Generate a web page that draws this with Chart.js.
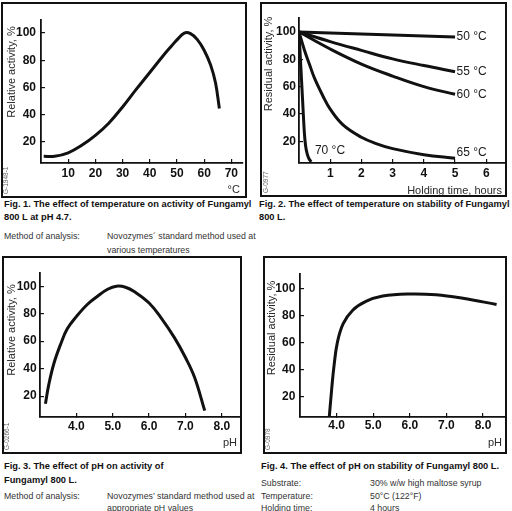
<!DOCTYPE html>
<html>
<head>
<meta charset="utf-8">
<script src="https://cdn.jsdelivr.net/npm/chart.js@4/dist/chart.umd.min.js"></script>
<style>
  body { margin: 0; background: #fff; width: 512px; height: 511px; position: relative; overflow: hidden;
         font-family: "Liberation Sans", Arial, sans-serif; }
  .box { position: absolute; border: 2px solid #111; box-sizing: border-box; }
  canvas { position: absolute; }
  .cap { position: absolute; font-weight: bold; font-size: 9.3px; line-height: 13px; color: #111; white-space: nowrap; }
  .det { position: absolute; font-size: 8.8px; line-height: 12px; color: #333; white-space: nowrap; }
</style>
</head>
<body>

<div class="box" style="left:1px;top:2px;width:246px;height:196px"></div>
<div class="box" style="left:260px;top:2px;width:247px;height:195px"></div>
<div class="box" style="left:2px;top:256px;width:240px;height:198px"></div>
<div class="box" style="left:263px;top:256px;width:244px;height:198px"></div>

<canvas id="g1"></canvas>
<canvas id="g2"></canvas>
<canvas id="g3"></canvas>
<canvas id="g4"></canvas>

<div class="cap" style="left:4px;top:198px">Fig. 1. The effect of temperature on activity of Fungamyl</div>
<div class="cap" style="left:4px;top:211px">800 L at pH 4.7.</div>
<div class="det" style="left:4px;top:230px">Method of analysis:</div>
<div class="det" style="left:107px;top:230px">Novozymes´ standard method used at</div>
<div class="det" style="left:107px;top:244px">various temperatures</div>

<div class="cap" style="left:259px;top:198px">Fig. 2. The effect of temperature on stability of Fungamyl</div>
<div class="cap" style="left:259px;top:211px">800 L.</div>

<div class="cap" style="left:4px;top:460px">Fig. 3. The effect of pH on activity of</div>
<div class="cap" style="left:4px;top:474px">Fungamyl 800 L.</div>
<div class="det" style="left:4px;top:490px">Method of analysis:</div>
<div class="det" style="left:107px;top:490px">Novozymes’ standard method used at</div>
<div class="det" style="left:107px;top:502px">appropriate pH values</div>

<div class="cap" style="left:261px;top:460px">Fig. 4. The effect of pH on stability of Fungamyl 800 L.</div>
<div class="det" style="left:261px;top:477px">Substrate:</div>
<div class="det" style="left:370px;top:477px">30% w/w high maltose syrup</div>
<div class="det" style="left:261px;top:490px">Temperature:</div>
<div class="det" style="left:370px;top:490px">50°C (122°F)</div>
<div class="det" style="left:261px;top:502px">Holding time:</div>
<div class="det" style="left:370px;top:502px">4 hours</div>

<script>
// Fig. 1 - atividade x temperatura (pH 4.7)
const tempC   = [1, 5, 10, 15, 20, 25, 30, 35, 40, 45, 48, 50, 52.7, 55, 57.5, 60, 62.4, 64.2, 65.6];
const tempAtv = [9.2, 9.2, 11.8, 17.3, 24.6, 33.8, 45.6, 58.5, 71, 83.5, 90.5, 95, 100, 99.6, 95.2, 87.4, 76.4, 63.2, 44.5];

// Fig. 2 - estabilidade x tempo de espera
const horas50 = [0, 5];
const resid50 = [100, 96.3];
const horas55 = [0, 1, 2, 3, 4, 5];
const resid55 = [100, 92.9, 86.5, 80.3, 75.4, 70.9];
const horas60 = [0, 1, 2, 3, 4, 5];
const resid60 = [100, 87.5, 76.5, 67.7, 60, 54.4];
const horas65 = [0, 0.17, 0.34, 0.5, 0.77, 1, 1.41, 2, 2.47, 3, 4, 5];
const resid65 = [100, 87, 76, 66, 53, 43.5, 32, 23, 18.4, 14.7, 10.3, 7.7];
const horas70 = [0, 0.06, 0.12, 0.17, 0.21, 0.26, 0.32, 0.39];
const resid70 = [100, 74, 48, 27, 17, 11, 7.3, 5];
const rotulosTemp = ["50 °C", "55 °C", "60 °C", "65 °C", "70 °C"];
const rotulosX    = [5.05, 5.05, 5.05, 5.05, 0.51];
const rotulosY    = [96.7, 71.2, 54.1, 11.8, 12.9];

// Fig. 3 - atividade x pH
const phAtv  = [3.15, 3.24, 3.38, 3.57, 3.75, 4.0, 4.3, 4.58, 4.86, 5.1, 5.35, 5.6, 6.0, 6.33, 6.7, 7.0, 7.25, 7.53];
const atvPh  = [14.5, 28.2, 43.6, 58, 69, 77.9, 86.7, 92.7, 97.8, 100, 99.3, 96, 87.8, 77, 62.4, 48.1, 33.7, 9.4];

// Fig. 4 - estabilidade x pH
const phEst  = [3.8, 3.87, 3.93, 4.02, 4.18, 4.44, 4.8, 5.26, 6.0, 6.72, 7.45, 8.37];
const estPh  = [5, 27, 43, 60, 74, 84, 90.5, 94.5, 96, 95.4, 92.8, 88.3];

// ticks
const ticksTemp  = [10, 20, 30, 40, 50, 60, 70];
const ticksHoras = [1, 2, 3, 4, 5, 6];
const ticksPh    = [4, 5, 6, 7, 8];
const ticksPct   = [20, 40, 60, 80, 100];

const FAMILIA = "'Liberation Sans', Arial, sans-serif";

// rótulos das curvas, título do eixo y e código da figura
const notas = {
  id: "notas",
  afterDraw(chart, args, o) {
    const { ctx } = chart;
    const { x, y } = chart.scales;
    ctx.save();
    ctx.fillStyle = "#2a2a2a";
    ctx.font = "11px " + FAMILIA;
    ctx.textAlign = "center";
    ctx.textBaseline = "middle";
    ctx.translate(o.tituloX, o.tituloY);
    ctx.rotate(-Math.PI / 2);
    ctx.fillText(o.titulo, 0, 0);
    ctx.restore();

    ctx.save();
    ctx.fillStyle = "#666";
    ctx.font = "6.5px " + FAMILIA;
    ctx.textAlign = "left";
    ctx.textBaseline = "middle";
    ctx.translate(o.codigoX, chart.height - 2);
    ctx.rotate(-Math.PI / 2);
    ctx.fillText(o.codigo, 0, 0);
    ctx.restore();

    if (o.rotulos) {
      ctx.save();
      ctx.fillStyle = "#1a1a1a";
      ctx.font = "12px " + FAMILIA;
      ctx.textAlign = "left";
      ctx.textBaseline = "middle";
      o.rotulos.textos.forEach((t, i) => {
        ctx.fillText(t, x.getPixelForValue(o.rotulos.xs[i]), y.getPixelForValue(o.rotulos.ys[i]));
      });
      ctx.restore();
    }
  }
};

function serie(xs, ys) {
  return {
    data: xs.map((v, i) => ({ x: v, y: ys[i] })),
    borderColor: "#111",
    borderWidth: 3,
    pointRadius: 0,
    fill: false,
    tension: 0.4
  };
}

function montarGrafico(p) {
  const canvas = document.getElementById(p.id);
  canvas.width = p.w;
  canvas.height = p.h;
  canvas.style.left = p.left + "px";
  canvas.style.top = p.top + "px";

  const eixo = (ticks, padding, fmt) => ({
    type: "linear",
    afterBuildTicks: s => { s.ticks = ticks.map(v => ({ value: v })); },
    ticks: {
      autoSkip: false, maxRotation: 0, padding, color: "#111",
      font: { family: FAMILIA, size: 12, weight: "bold" },
      callback: fmt
    },
    grid: { drawOnChartArea: false, drawTicks: true, tickLength: -4, color: "#111", lineWidth: 1.2 },
    border: { display: true, color: "#111", width: 1.8 }
  });

  const x = Object.assign(eixo(p.xTicks, p.xPad, p.xFmt), {
    min: p.xMin, max: p.xMax,
    afterFit: s => { s.height = p.xH; },
    title: {
      display: true, text: p.xTitulo, align: "end", color: "#2a2a2a",
      font: { family: FAMILIA, size: 11, lineHeight: 0.8 },
      padding: { top: 0, bottom: p.xTitPad }
    }
  });
  const y = Object.assign(eixo(ticksPct, p.yPad, v => String(v)), {
    min: p.yMin, max: p.yMax,
    afterFit: s => { s.width = p.yW; }
  });

  return new Chart(canvas, {
    type: "line",
    data: { datasets: p.series },
    options: {
      responsive: false,
      animation: false,
      events: [],
      layout: { padding: 0 },
      plugins: {
        legend: { display: false },
        tooltip: { enabled: false },
        notas: p.notas
      },
      scales: { x, y }
    },
    plugins: [notas]
  });
}

const inteiro = v => String(v);
const decimal = v => v.toFixed(1);

montarGrafico({
  id: "g1", left: 3, top: 4, w: 242, h: 192, yW: 38, xH: 33,
  xMin: 0, xMax: 74.3, yMin: 4.3, yMax: 109.5,
  xTicks: ticksTemp, xFmt: inteiro, xPad: 7, yPad: 9,
  xTitulo: "°C ", xTitPad: 1.5,
  series: [serie(tempC, tempAtv)],
  notas: { titulo: "Relative activity, %", tituloX: 9.3, tituloY: 68, codigo: "G-1948-1", codigoX: 3 }
});

montarGrafico({
  id: "g2", left: 262, top: 4, w: 243, h: 191, yW: 37, xH: 32,
  xMin: 0, xMax: 6.6, yMin: 4.2, yMax: 110,
  xTicks: ticksHoras, xFmt: inteiro, xPad: 7, yPad: 7,
  xTitulo: "Holding time, hours ", xTitPad: 0,
  series: [serie(horas50, resid50), serie(horas55, resid55), serie(horas60, resid60),
           serie(horas65, resid65), serie(horas70, resid70)],
  notas: {
    titulo: "Residual activity, %", tituloX: 7.3, tituloY: 60, codigo: "G-0977", codigoX: 4,
    rotulos: { textos: rotulosTemp, xs: rotulosX, ys: rotulosY }
  }
});

montarGrafico({
  id: "g3", left: 4, top: 258, w: 236, h: 194, yW: 36, xH: 35,
  xMin: 3, xMax: 8.5, yMin: 4.8, yMax: 110,
  xTicks: ticksPh, xFmt: decimal, xPad: 6, yPad: 7.3,
  xTitulo: "pH ", xTitPad: 4.6,
  series: [serie(phAtv, atvPh)],
  notas: { titulo: "Relative activity, %", tituloX: 8, tituloY: 72, codigo: "G-0266-1", codigoX: 3 }
});

montarGrafico({
  id: "g4", left: 265, top: 258, w: 240, h: 194, yW: 35, xH: 35,
  xMin: 3, xMax: 8.6, yMin: 4.9, yMax: 110.9,
  xTicks: ticksPh, xFmt: decimal, xPad: 5, yPad: 8.7,
  xTitulo: "pH ", xTitPad: 4.6,
  series: [serie(phEst, estPh)],
  notas: { titulo: "Residual activity, %", tituloX: 7, tituloY: 70, codigo: "G-0978", codigoX: 3 }
});
</script>
</body>
</html>
